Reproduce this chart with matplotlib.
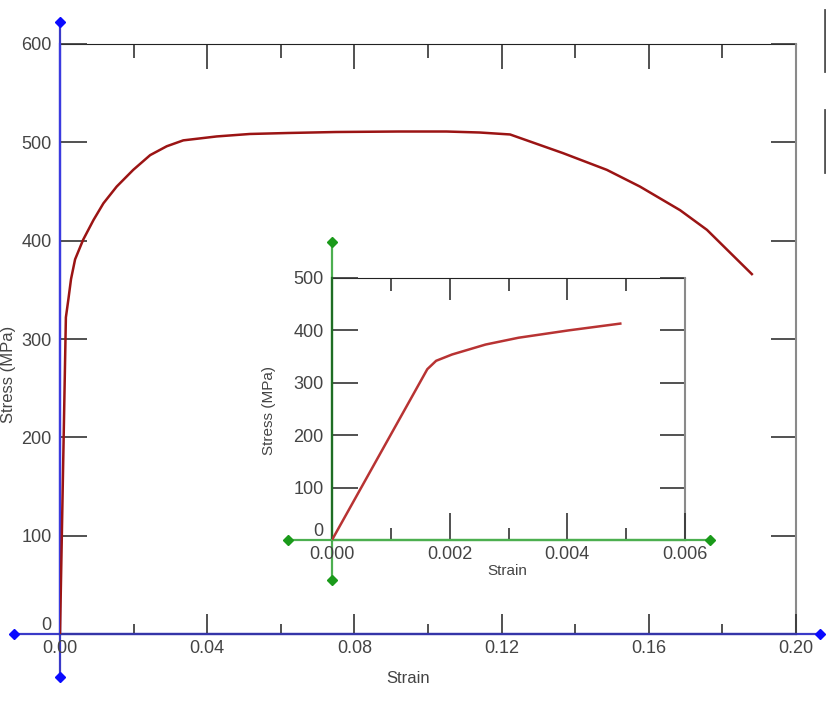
import numpy as np
import matplotlib
matplotlib.use("Agg")
import matplotlib.pyplot as plt
from matplotlib.ticker import MultipleLocator, FormatStrFormatter
from matplotlib.lines import Line2D

plt.rcParams['font.family'] = ['Liberation Sans', 'DejaVu Sans']

# full stress-strain curve
main_strain = [0, 0.0016, 0.0023, 0.0030, 0.0041, 0.0063, 0.0091, 0.0118, 0.0154,
               0.0199, 0.0245, 0.029, 0.0335, 0.0426, 0.0516, 0.062, 0.075, 0.092,
               0.105, 0.114, 0.1223, 0.1367, 0.1486, 0.1576, 0.1685, 0.1758, 0.188]
main_stress = [0, 322, 341, 361, 381, 401, 421, 438, 455,
               472, 487, 496, 502, 506, 508.5, 509.5, 510.5, 511,
               511, 510, 508, 489, 472, 455, 431, 411, 366]

# zoomed elastic region
inset_strain = [0, 0.00162, 0.00177, 0.00204, 0.00261, 0.00317, 0.00402, 0.0049]
inset_stress = [0, 326, 342, 354, 373, 386, 400, 413]

main_xticks = [0.00, 0.04, 0.08, 0.12, 0.16, 0.20]
main_yticks = [0, 100, 200, 300, 400, 500, 600]
inset_xticks = [0.000, 0.002, 0.004, 0.006]
inset_yticks = [0, 100, 200, 300, 400, 500]

W, H = 826, 703
TXT = '#444444'
TICK = '#333333'


def style_axes(a, xmaj, xmin, ymaj, xfmt, ylen_l, ylen_r, xlen_b, xlen_t, line_col, diam_col,
               ext_x, ext_y, left_col, bottom_col):
    a.set_xticks(xmaj)
    a.xaxis.set_minor_locator(MultipleLocator(xmin))
    a.set_yticks(ymaj)
    a.xaxis.set_major_formatter(FormatStrFormatter(xfmt))
    a.tick_params(axis='x', which='major', direction='in', length=xlen_b[0], width=1.2,
                  color=TICK, labelsize=13, labelcolor=TXT, pad=4)
    a.tick_params(axis='x', which='minor', direction='in', length=xlen_b[1], width=1.2, color=TICK)
    a.tick_params(axis='y', which='major', direction='in', length=ylen_l, width=1.2,
                  color=TICK, labelsize=13, labelcolor=TXT, pad=6)
    a.yaxis.get_major_ticks()[0].label1.set_verticalalignment('bottom')

    top = a.secondary_xaxis('top')
    top.set_xticks(xmaj)
    top.xaxis.set_minor_locator(MultipleLocator(xmin))
    top.tick_params(axis='x', which='major', direction='in', length=xlen_t[0], width=1.2,
                    color=TICK, labeltop=False)
    top.tick_params(axis='x', which='minor', direction='in', length=xlen_t[1], width=1.2, color=TICK)
    top.spines['top'].set_color('#222222')

    right = a.secondary_yaxis('right')
    right.set_yticks(ymaj)
    right.tick_params(axis='y', direction='in', length=ylen_r, width=1.2, color=TICK,
                      labelright=False)
    right.spines['right'].set_color('#8a8a8a')
    right.spines['right'].set_linewidth(1.5)

    for s in ['top', 'right']:
        a.spines[s].set_visible(False)
    a.spines['left'].set_color(left_col)
    a.spines['left'].set_linewidth(1.6)
    a.spines['bottom'].set_color(bottom_col)
    a.spines['bottom'].set_linewidth(1.6)

    # extended axis lines with diamond ends
    a.plot(ext_x, [0, 0], transform=a.transAxes, color=line_col, lw=1.6, clip_on=False,
           marker='D', markersize=5.5, markerfacecolor=diam_col, markeredgecolor=diam_col, zorder=1)
    a.plot([0, 0], ext_y, transform=a.transAxes, color=line_col, lw=1.6, clip_on=False,
           marker='D', markersize=5.5, markerfacecolor=diam_col, markeredgecolor=diam_col, zorder=1)


fig = plt.figure(figsize=(W / 100, H / 100), dpi=100)

# main axes
ax = fig.add_axes([60 / W, (H - 634) / H, 736 / W, 590 / H])
ax.set_xlim(0, 0.20)
ax.set_ylim(0, 600)
ax.plot(main_strain, main_stress, color='#9b1414', lw=1.8, zorder=3,
        solid_joinstyle='round')
style_axes(ax, main_xticks, 0.02, main_yticks, '%.2f', 19.4, 18, (14.4, 7.2), (18, 10),
           '#3a3ac8', '#0a0aff', [-46 / 736, 760 / 736], [-43 / 590, 612 / 590],
           '#3a3ae0', '#3535a8')
ax.set_xlabel('Strain', fontsize=12, color=TXT)
ax.xaxis.set_label_coords(0.473, -0.063)
ax.set_ylabel('Stress (MPa)', fontsize=12, color=TXT)
ax.yaxis.set_label_coords(-0.060, 0.44)

# inset axes
ins = fig.add_axes([332 / W, (H - 540) / H, 353 / W, 262 / H])
ins.set_xlim(0, 0.006)
ins.set_ylim(0, 500)
ins.plot(inset_strain, inset_stress, color='#b83333', lw=1.8, zorder=3,
         solid_joinstyle='round')
style_axes(ins, inset_xticks, 0.001, inset_yticks, '%.3f', 18.7, 18, (19.4, 9), (16, 9),
           '#4caf50', '#1a9a1a', [-44 / 353, 378 / 353], [-40 / 262, 298 / 262],
           '#1f6e24', '#4caf50')
ins.set_xlabel('Strain', fontsize=11, color=TXT)
ins.xaxis.set_label_coords(0.496, -0.092)
ins.set_ylabel('Stress (MPa)', fontsize=11, color=TXT)
ins.yaxis.set_label_coords(-0.158, 0.496)

# clipped legend edges at the top right
fig.add_artist(Line2D([824.5 / W, 824.5 / W], [1 - 10 / H, 1 - 71 / H],
                      transform=fig.transFigure, color='#555555', lw=2))
fig.add_artist(Line2D([824.5 / W, 824.5 / W], [1 - 110 / H, 1 - 172 / H],
                      transform=fig.transFigure, color='#555555', lw=2))

fig.savefig('out.png', dpi=100)
